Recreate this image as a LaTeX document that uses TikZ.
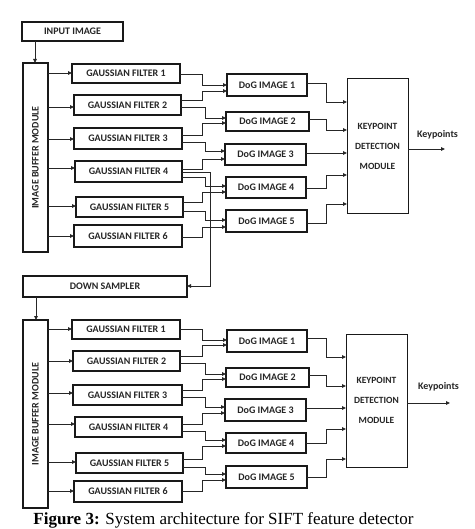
\documentclass[tikz,border=0pt]{standalone}
\usepackage{fontspec}
\setmainfont{Liberation Serif}
\newfontfamily\boxfont{Carlito}
\usetikzlibrary{arrows.meta}
\begin{document}
\begin{tikzpicture}[x=1pt,y=-1pt,
  blk/.style={draw=black!90,line width=1.1pt,inner sep=0pt,outer sep=0pt,font=\boxfont\bfseries\fontsize{10}{12}\selectfont,text=black!85},
  txt/.style={inner sep=0pt,font=\boxfont\bfseries\fontsize{10}{12}\selectfont,text=black!85},
  conn/.style={draw=black!85,line width=0.9pt},
  arr/.style={conn,-{Triangle[length=4pt,width=3.6pt]}},
]
\useasboundingbox (0,0) rectangle (474,529);
\clip (0,0) rectangle (474,529);
\fill[white] (0,0) rectangle (474,529);

% ---------- top half ----------
\node[blk,minimum width=101pt,minimum height=19pt] (in) at (72.5,31.5) {INPUT IMAGE};
\node[blk,minimum width=25pt,minimum height=189pt] (buf1) at (35.5,157.5) {};
\node[txt,rotate=90] (buf1t) at (buf1.center) {IMAGE BUFFER MODULE};

\node[blk,minimum width=108pt,minimum height=19pt] (gf11) at (126,73.5) {GAUSSIAN FILTER 1};
\node[blk,minimum width=107pt,minimum height=20pt] (gf12) at (127.5,105) {GAUSSIAN FILTER 2};
\node[blk,minimum width=108pt,minimum height=21pt] (gf13) at (128,138.5) {GAUSSIAN FILTER 3};
\node[blk,minimum width=107pt,minimum height=21pt] (gf14) at (128.5,171.5) {GAUSSIAN FILTER 4};
\node[blk,minimum width=107pt,minimum height=20pt] (gf15) at (129.5,207) {GAUSSIAN FILTER 5};
\node[blk,minimum width=108pt,minimum height=22pt] (gf16) at (128,236) {GAUSSIAN FILTER 6};

\node[blk,minimum width=80pt,minimum height=22pt] (dog11) at (267,85) {DoG IMAGE 1};
\node[blk,minimum width=83pt,minimum height=19pt] (dog12) at (267.5,121.5) {DoG IMAGE 2};
\node[blk,minimum width=81pt,minimum height=21pt] (dog13) at (265.5,154.5) {DoG IMAGE 3};
\node[blk,minimum width=80pt,minimum height=21pt] (dog14) at (266,187.5) {DoG IMAGE 4};
\node[blk,minimum width=81pt,minimum height=22pt] (dog15) at (266.5,221) {DoG IMAGE 5};

\node[blk,line width=1pt,minimum width=61pt,minimum height=134pt,align=center,font=\boxfont\bfseries\fontsize{9.5}{20}\selectfont] (kp1) at (377.5,146) {KEYPOINT\\DETECTION\\MODULE};

\node[blk,minimum width=164pt,minimum height=21pt] (ds) at (105,286.5) {DOWN SAMPLER};

\draw[arr] (in.south -| 35,0) -- (buf1.north -| 35,0);

\draw[arr] (buf1.east |- 0,73) -- (gf11.west |- 0,73);
\draw[arr] (buf1.east |- 0,107) -- (gf12.west |- 0,107);
\draw[arr] (buf1.east |- 0,139) -- (gf13.west |- 0,139);
\draw[arr] (buf1.east |- 0,168) -- (gf14.west |- 0,168);
\draw[arr] (buf1.east |- 0,206) -- (gf15.west |- 0,206);
\draw[arr] (buf1.east |- 0,236) -- (gf16.west |- 0,236);

\draw[arr] (gf11.east |- 0,74) -| (202,85) -- (dog11.west |- 0,85);
\draw[arr] (gf12.east |- 0,100) -| (202,91) -- (dog11.west |- 0,91);
\draw[arr] (gf12.east |- 0,107) -| (205,118) -- (dog12.west |- 0,118);
\draw[arr] (gf13.east |- 0,135) -| (202,123) -- (dog12.west |- 0,123);
\draw[arr] (gf13.east |- 0,142) -| (205,151) -- (dog13.west |- 0,151);
\draw[arr] (gf14.east |- 0,169) -| (202,159) -- (dog13.west |- 0,159);
\draw[arr] (gf14.east |- 0,177) -| (205,186) -- (dog14.west |- 0,186);
\draw[arr] (gf15.east |- 0,202) -| (202,192) -- (dog14.west |- 0,192);
\draw[arr] (gf15.east |- 0,211) -| (205,220) -- (dog15.west |- 0,220);
\draw[arr] (gf16.east |- 0,237) -| (202,227) -- (dog15.west |- 0,227);
\draw[arr] (gf14.east |- 0,172) -| (210,286) -- (ds.east |- 0,286);

\draw[arr] (dog11.east |- 0,83) -| (326,102) -- (kp1.west |- 0,102);
\draw[arr] (dog12.east |- 0,119) -| (326,130) -- (kp1.west |- 0,130);
\draw[arr] (dog13.east |- 0,153) -- (kp1.west |- 0,153);
\draw[arr] (dog14.east |- 0,188) -| (326,175) -- (kp1.west |- 0,175);
\draw[arr] (dog15.east |- 0,223) -| (326,204) -- (kp1.west |- 0,204);

\coordinate (o1) at (445,149);
\draw[arr] (kp1.east |- 0,149) -- (o1);
\node[txt] (k1) at (437.5,135) {Keypoints};

% ---------- bottom half ----------
\node[blk,minimum width=25pt,minimum height=188pt] (buf2) at (35.5,414) {};
\node[txt,rotate=90] (buf2t) at (buf2.center) {IMAGE BUFFER MODULE};

\node[blk,minimum width=108pt,minimum height=19pt] (gf21) at (126,329.5) {GAUSSIAN FILTER 1};
\node[blk,minimum width=107pt,minimum height=20pt] (gf22) at (126.5,361) {GAUSSIAN FILTER 2};
\node[blk,minimum width=109pt,minimum height=20pt] (gf23) at (127.5,395) {GAUSSIAN FILTER 3};
\node[blk,minimum width=107pt,minimum height=20pt] (gf24) at (128.5,427) {GAUSSIAN FILTER 4};
\node[blk,minimum width=107pt,minimum height=20pt] (gf25) at (129.5,463) {GAUSSIAN FILTER 5};
\node[blk,minimum width=108pt,minimum height=21pt] (gf26) at (128,491.5) {GAUSSIAN FILTER 6};

\node[blk,minimum width=80pt,minimum height=22pt] (dog21) at (267,341) {DoG IMAGE 1};
\node[blk,minimum width=83pt,minimum height=19pt] (dog22) at (267.5,377.5) {DoG IMAGE 2};
\node[blk,minimum width=81pt,minimum height=22pt] (dog23) at (265.5,410) {DoG IMAGE 3};
\node[blk,minimum width=80pt,minimum height=20pt] (dog24) at (266,443) {DoG IMAGE 4};
\node[blk,minimum width=81pt,minimum height=22pt] (dog25) at (266.5,477) {DoG IMAGE 5};

\node[blk,line width=1pt,minimum width=61pt,minimum height=133pt,align=center,font=\boxfont\bfseries\fontsize{9.5}{20}\selectfont] (kp2) at (376.5,400.5) {KEYPOINT\\DETECTION\\MODULE};

\draw[arr] (ds.south -| 36,0) -- (buf2.north -| 36,0);

\draw[arr] (buf2.east |- 0,329) -- (gf21.west |- 0,329);
\draw[arr] (buf2.east |- 0,361) -- (gf22.west |- 0,361);
\draw[arr] (buf2.east |- 0,393) -- (gf23.west |- 0,393);
\draw[arr] (buf2.east |- 0,424) -- (gf24.west |- 0,424);
\draw[arr] (buf2.east |- 0,462) -- (gf25.west |- 0,462);
\draw[arr] (buf2.east |- 0,491) -- (gf26.west |- 0,491);

\draw[arr] (gf21.east |- 0,329) -| (202,340) -- (dog21.west |- 0,340);
\draw[arr] (gf22.east |- 0,356) -| (202,345) -- (dog21.west |- 0,345);
\draw[arr] (gf22.east |- 0,363) -| (205,374) -- (dog22.west |- 0,374);
\draw[arr] (gf23.east |- 0,390) -| (202,379) -- (dog22.west |- 0,379);
\draw[arr] (gf23.east |- 0,397) -| (205,407) -- (dog23.west |- 0,407);
\draw[arr] (gf24.east |- 0,424) -| (202,413) -- (dog23.west |- 0,413);
\draw[arr] (gf24.east |- 0,431) -| (205,440) -- (dog24.west |- 0,440);
\draw[arr] (gf25.east |- 0,459) -| (202,446) -- (dog24.west |- 0,446);
\draw[arr] (gf25.east |- 0,467) -| (205,474) -- (dog25.west |- 0,474);
\draw[arr] (gf26.east |- 0,491) -| (202,480) -- (dog25.west |- 0,480);

\draw[arr] (dog21.east |- 0,338) -| (326,357) -- (kp2.west |- 0,357);
\draw[arr] (dog22.east |- 0,375) -| (326,386) -- (kp2.west |- 0,386);
\draw[arr] (dog23.east |- 0,408) -- (kp2.west |- 0,408);
\draw[arr] (dog24.east |- 0,443) -| (326,429) -- (kp2.west |- 0,429);
\draw[arr] (dog25.east |- 0,477) -| (326,459) -- (kp2.west |- 0,459);

\coordinate (o2) at (450,403);
\draw[arr] (kp2.east |- 0,403) -- (o2);
\node[txt] (k2) at (438.5,387) {Keypoints};

% ---------- caption ----------
\node[anchor=base,inner sep=0pt,font=\fontsize{17}{20}\selectfont] (cap) at (223.5,524.5) {\textbf{Figure 3:} System architecture for SIFT feature detector};
\end{tikzpicture}
\end{document}
